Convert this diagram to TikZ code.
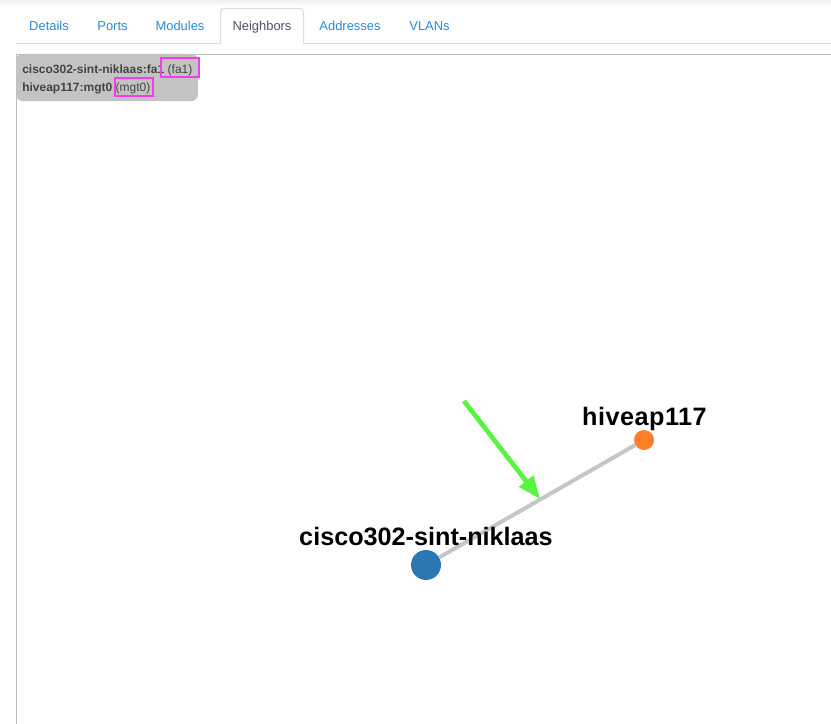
\documentclass[tikz,border=0pt]{standalone}
\usepackage{fontspec}
\setmainfont{Liberation Sans}
\usetikzlibrary{arrows.meta,shadings}
\pgfdeclarelayer{edgelayer}
\pgfdeclarelayer{nodelayer}
\pgfsetlayers{edgelayer,main,nodelayer}
\definecolor{tablink}{HTML}{2A8BD0}
\definecolor{tabactive}{HTML}{5A4A68}
\definecolor{tabline}{HTML}{DDDDDD}
\definecolor{panelline}{HTML}{BDBDBD}
\definecolor{legendgrey}{HTML}{C3C3C3}
\definecolor{legendtext}{HTML}{444444}
\definecolor{markpink}{HTML}{F43CEB}
\definecolor{arrowgreen}{HTML}{57F53F}
\definecolor{linkgrey}{HTML}{C6C6C6}
\definecolor{hostblue}{HTML}{2C76B1}
\definecolor{hostorange}{HTML}{FD7F28}
\tikzstyle{tablabel}=[inner sep=0pt,anchor=base,text=tablink,font=\fontsize{9.7pt}{12pt}\selectfont]
\tikzstyle{legendlabel}=[inner sep=0pt,anchor=base west,text=legendtext,font=\fontsize{9pt}{11pt}\selectfont]
\tikzstyle{marker}=[draw=markpink,line width=1.5pt,inner sep=0pt,outer sep=0pt,anchor=north west]
\tikzstyle{hostlabel}=[inner sep=0pt,anchor=base,text=black,font=\fontsize{18.9pt}{23pt}\selectfont\bfseries]
\tikzstyle{host}=[circle,inner sep=0pt]
\begin{document}
\begin{tikzpicture}[x=0.75pt,y=-0.75pt]
	\useasboundingbox (0,0) rectangle (831,724);
	\begin{pgfonlayer}{edgelayer}
		\fill[white] (0,0) rectangle (831,724);
		\shade[top color=black!6,bottom color=white] (0,0) rectangle (831,6);
		\draw[tabline,line width=0.75pt] (16,43.5) to (831,43.5);
		\draw[panelline,line width=0.75pt] (16.5,724) to (16.5,54.5) to (831,54.5);
		\draw[tabline,line width=0.75pt,fill=white,rounded corners=2.5pt] (220.5,44) to (220.5,8.5) to (303.5,8.5) to (303.5,44);
		\fill[legendgrey,rounded corners=5pt] (16,54) rectangle (198,101);
	\end{pgfonlayer}
	\begin{pgfonlayer}{nodelayer}
		\node [style=tablabel] (details) at (49,31) {Details};
		\node [style=tablabel] (ports) at (112.5,31) {Ports};
		\node [style=tablabel] (modules) at (180,31) {Modules};
		\node [style=tablabel,text=tabactive] (neighbors) at (262,31) {Neighbors};
		\node [style=tablabel] (addresses) at (350,31) {Addresses};
		\node [style=tablabel] (vlans) at (429.5,31) {VLANs};
		\node [style=legendlabel] (ciscoport) at (22,73.5) {\textbf{cisco302-sint-niklaas:fa1} (fa1)};
		\node [style=legendlabel] (hiveport) at (22,91.5) {\textbf{hiveap117:mgt0} (mgt0)};
		\node [style=marker,minimum width=28.5pt,minimum height=14pt] (markfa) at (160.5,58.5) {};
		\node [style=marker,minimum width=28.5pt,minimum height=13.5pt] (markmgt) at (114.5,78) {};
		\node [style=host,fill=hostblue,minimum size=22.5pt] (cisco) at (426,565) {};
		\node [style=host,fill=hostorange,minimum size=15pt] (hive) at (644,440) {};
		\node [style=hostlabel] (ciscolabel) at (426,545) {cisco302-sint-niklaas};
		\node [style=hostlabel] (hivelabel) at (644.5,425) {\addfontfeature{LetterSpace=2}hiveap117};
		\coordinate (tail) at (464,401);
		\coordinate (head) at (540,499);
		\draw[arrowgreen,line width=3.5pt,-{Triangle[length=17pt,width=13pt]}] (tail) to (head);
	\end{pgfonlayer}
	\draw[linkgrey,line width=3pt] (cisco) to (hive);
\end{tikzpicture}
\end{document}
